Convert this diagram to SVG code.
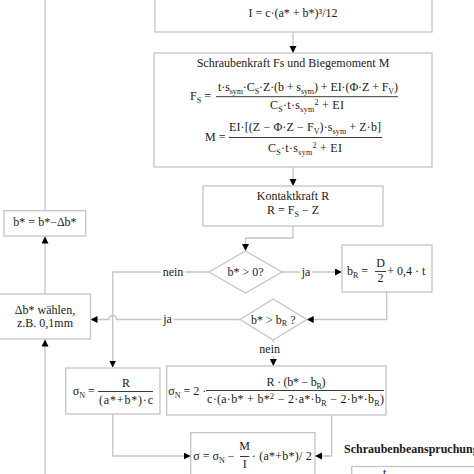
<svg xmlns="http://www.w3.org/2000/svg" width="474" height="474" viewBox="0 0 474 474">
<style>
.ln{fill:none;stroke:#c4c4c4;stroke-width:1.3}
.ar{fill:none;stroke:#c4c4c4;stroke-width:1.3;marker-end:url(#ah)}
.bx{fill:#fff;stroke:#c4c4c4;stroke-width:1.3}
.fl{stroke:#222;stroke-width:0.9}
text{font-family:"Liberation Serif","Times New Roman",serif;font-size:12px;fill:#1a1a1a}
.m{text-anchor:middle}
.sb{font-size:8px}
.lb{stroke:#fff;stroke-width:5;paint-order:stroke;text-anchor:middle}
.bd{font-weight:bold}
</style>
<defs>
<marker id="ah" markerUnits="userSpaceOnUse" markerWidth="8" markerHeight="8" refX="7" refY="3.5" orient="auto">
<path d="M0,0 L7,3.5 L0,7 z" fill="#000"/>
</marker>
</defs>
<g id="connectors">
<path class="ln" d="M45,210.7 V0"/>
<path class="ar" d="M45,294 V236.5"/>
<path class="ar" d="M45,474 V339.5"/>
<path class="ar" d="M293,32 V53"/>
<path class="ar" d="M293,167 V186"/>
<path class="ar" d="M293,226 V238 H245.5 V251"/>
<path class="ar" d="M209,272 H112.7 V367.5"/>
<path class="ar" d="M282,272 H342"/>
<path class="ar" d="M386.7,292 V319.5 H306.7"/>
<path class="ar" d="M240,319.5 H116.7 A4,4 0 0 0 108.7,319.5 H90.5"/>
<path class="ar" d="M273.3,340 V366"/>
<path class="ar" d="M112.7,414 V456 H190.7"/>
<path class="ar" d="M331.7,415 V456 H315"/>
<text class="lb" x="173" y="275.5">nein</text>
<text class="lb" x="306" y="275.5">ja</text>
<text class="lb" x="167.5" y="323">ja</text>
<text class="lb" x="269.7" y="353">nein</text>
</g>
<g id="n_I">
<rect class="bx" x="155" y="-10" width="277" height="42"/>
<text class="m" x="293" y="17" textLength="89" lengthAdjust="spacing">I = c·(a* + b*)³/12</text>
</g>
<g id="n_FsM">
<rect class="bx" x="154" y="53" width="278" height="114"/>
<text class="m" x="293" y="67">Schraubenkraft Fs und Biegemoment M</text>
<text x="190" y="100">F<tspan class="sb" dy="2.5">S</tspan><tspan dy="-2.5"> =</tspan></text>
<text x="218" y="91" textLength="180" lengthAdjust="spacing">t·s<tspan class="sb" dy="2.5">sym</tspan><tspan dy="-2.5">·C</tspan><tspan class="sb" dy="2.5">S</tspan><tspan dy="-2.5">·Z·(b + s</tspan><tspan class="sb" dy="2.5">sym</tspan><tspan dy="-2.5">) + EI·(Φ·Z + F</tspan><tspan class="sb" dy="2.5">V</tspan><tspan dy="-2.5">)</tspan></text>
<line class="fl" x1="216" y1="96.7" x2="398" y2="96.7"/>
<text x="270" y="109" textLength="74" lengthAdjust="spacing">C<tspan class="sb" dy="2.5">S</tspan><tspan dy="-2.5">·t·s</tspan><tspan class="sb" dy="2.5">sym</tspan><tspan class="sb" dy="-7">2</tspan><tspan dy="4.5"> + EI</tspan></text>
<text x="205" y="141">M =</text>
<text x="229" y="131" textLength="152" lengthAdjust="spacing">EI·[(Z − Φ·Z − F<tspan class="sb" dy="2.5">V</tspan><tspan dy="-2.5">)·s</tspan><tspan class="sb" dy="2.5">sym</tspan><tspan dy="-2.5"> + Z·b]</tspan></text>
<line class="fl" x1="229" y1="137.5" x2="382" y2="137.5"/>
<text x="268" y="152" textLength="74" lengthAdjust="spacing">C<tspan class="sb" dy="2.5">S</tspan><tspan dy="-2.5">·t·s</tspan><tspan class="sb" dy="2.5">sym</tspan><tspan class="sb" dy="-7">2</tspan><tspan dy="4.5"> + EI</tspan></text>
</g>
<g id="n_R">
<rect class="bx" x="203" y="186" width="180" height="40"/>
<text class="m" x="293" y="199.5">Kontaktkraft R</text>
<text class="m" x="293" y="214">R = F<tspan class="sb" dy="2.5">S</tspan><tspan dy="-2.5"> − Z</tspan></text>
</g>
<g id="d_b0">
<polygon class="bx" points="245.5,251 282,272 245.5,293 209,272"/>
<text class="m" x="245.5" y="276">b* &gt; 0?</text>
</g>
<g id="n_bR">
<rect class="bx" x="342" y="245" width="90" height="47"/>
<text x="347" y="275">b<tspan class="sb" dy="2.5">R</tspan><tspan dy="-2.5"> =</tspan></text>
<text class="m" x="380.5" y="266.7">D</text>
<line class="fl" x1="375" y1="271.5" x2="386" y2="271.5"/>
<text class="m" x="380.5" y="282.3">2</text>
<text x="387.3" y="275">+ 0,4 · t</text>
</g>
<g id="d_bbR">
<polygon class="bx" points="273.3,299 306.7,319.5 273.3,340 240,319.5"/>
<text class="m" x="273.3" y="323.5">b* &gt; b<tspan class="sb" dy="2.5">R</tspan><tspan dy="-2.5"> ?</tspan></text>
</g>
<g id="n_db">
<rect class="bx" x="-1" y="294" width="91.5" height="45"/>
<text class="m" x="45" y="314">Δb* wählen,</text>
<text class="m" x="45" y="327">z.B. 0,1mm</text>
</g>
<g id="n_b">
<rect class="bx" x="4" y="210.7" width="81.7" height="25.3"/>
<text class="m" x="45" y="226">b* = b*−Δb*</text>
</g>
<g id="n_sN1">
<rect class="bx" x="65.7" y="368" width="94.3" height="46"/>
<text x="72.7" y="395">σ<tspan class="sb" dy="2.5">N</tspan><tspan dy="-2.5"> =</tspan></text>
<text class="m" x="126" y="386.7">R</text>
<line class="fl" x1="98" y1="391.5" x2="153" y2="391.5"/>
<text x="99" y="404" textLength="54" lengthAdjust="spacing">(a*+b*)·c</text>
</g>
<g id="n_sN2">
<rect class="bx" x="166.7" y="366" width="219.3" height="49"/>
<text x="168.3" y="395">σ<tspan class="sb" dy="2.5">N</tspan><tspan dy="-2.5"> = 2 ·</tspan></text>
<text x="266.5" y="386.3" textLength="59" lengthAdjust="spacing">R · (b* − b<tspan class="sb" dy="2.5">R</tspan><tspan dy="-2.5">)</tspan></text>
<line class="fl" x1="206" y1="390.5" x2="384" y2="390.5"/>
<text x="207" y="403" textLength="177" lengthAdjust="spacing">c·(a·b* + b*<tspan class="sb" dy="-4">2</tspan><tspan dy="4"> − 2·a*·b</tspan><tspan class="sb" dy="2.5">R</tspan><tspan dy="-2.5"> − 2·b*·b</tspan><tspan class="sb" dy="2.5">R</tspan><tspan dy="-2.5">)</tspan></text>
</g>
<g id="n_sigma">
<rect class="bx" x="190.7" y="432.7" width="124.3" height="60"/>
<text x="193.3" y="460">σ = σ<tspan class="sb" dy="2.5">N</tspan><tspan dy="-2.5"> −</tspan></text>
<text class="m" x="244.7" y="450">M</text>
<line class="fl" x1="240" y1="456.5" x2="249.3" y2="456.5"/>
<text class="m" x="244.7" y="468">I</text>
<text x="251.7" y="460" textLength="60" lengthAdjust="spacing">· (a*+b*)/ 2</text>
</g>
<g id="n_screw">
<text class="bd" x="344" y="453">Schraubenbeanspruchung</text>
<rect class="bx" x="351.7" y="466.5" width="140" height="30"/>
<text x="383" y="477">t</text>
</g>
</svg>
